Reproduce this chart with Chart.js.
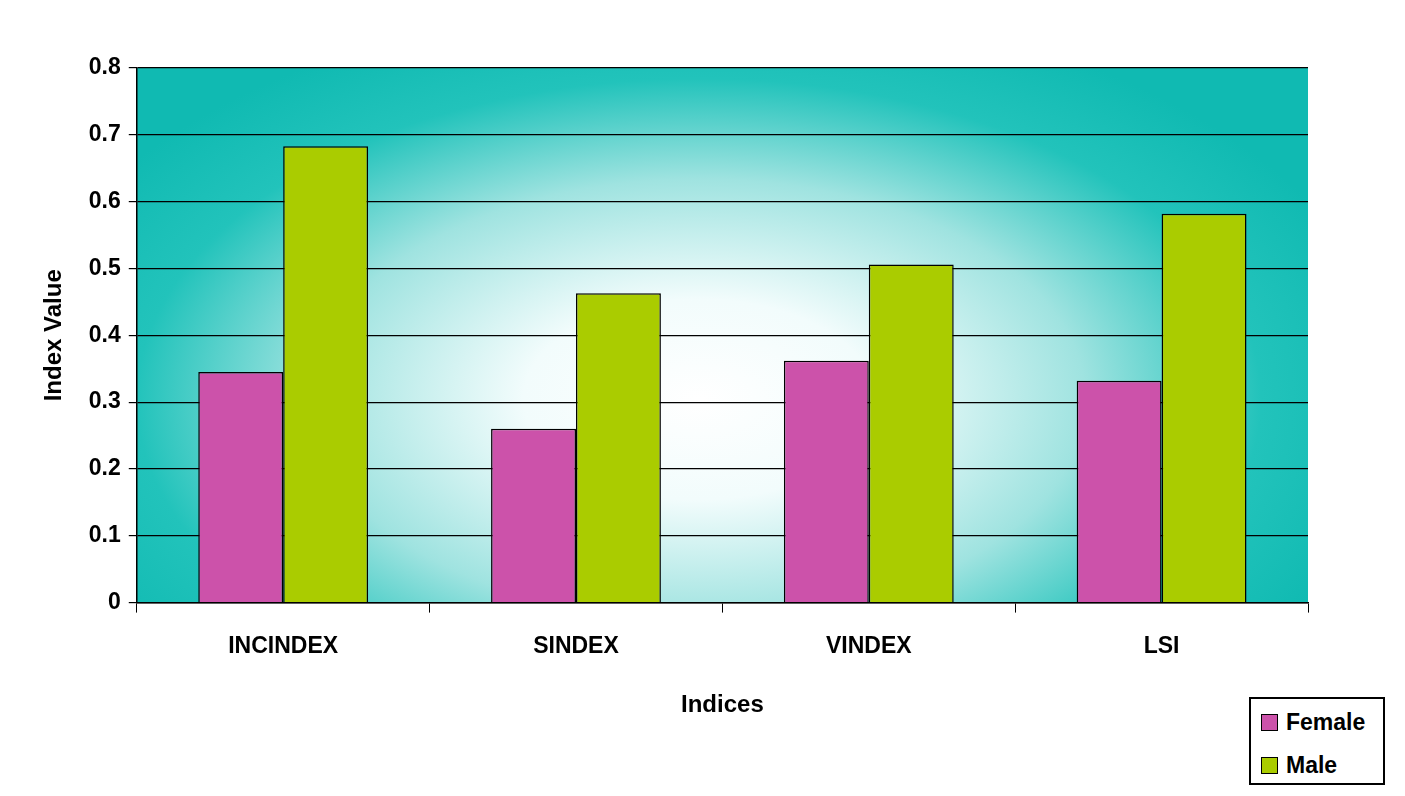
<!DOCTYPE html>
<html><head><meta charset="utf-8">
<script src="https://cdn.jsdelivr.net/npm/chart.js@4/dist/chart.umd.min.js"></script>
<style>
html,body{margin:0;padding:0;background:#fff;}
#wrap{position:relative;width:1405px;height:796px;}
#legend{position:absolute;left:1249px;top:697px;width:136px;height:88px;border:2px solid #000;background:#fff;font:bold 23px "Liberation Sans",Arial,sans-serif;box-sizing:border-box;}
#legend div{position:absolute;left:10px;display:flex;align-items:center;}
#legend span{display:inline-block;width:15px;height:15px;border:1px solid #000;margin-right:8px;}
</style></head>
<body><div id="wrap"><canvas id="c" width="1405" height="796"></canvas>
<div id="legend"><div style="top:10px"><span style="background:#CC52AA"></span>Female</div><div style="top:53px"><span style="background:#AACC00"></span>Male</div></div></div>
<script>
const categories = ["INCINDEX","SINDEX","VINDEX","LSI"];
const female = [0.345,0.26,0.362,0.332];
const male = [0.683,0.463,0.506,0.582];
const yTicks = [0,0.1,0.2,0.3,0.4,0.5,0.6,0.7,0.8];

const bg = {id:'bg',beforeDraw(chart){
  const {ctx,chartArea:a}=chart;
  const w=a.right-a.left,h=a.bottom-a.top;
  const cx=a.left+w*0.48, cy=a.top+h*0.62;
  ctx.save();
  ctx.beginPath();ctx.rect(a.left,a.top,w,h);ctx.clip();
  ctx.translate(cx,cy);ctx.scale(1,h/w*1.25);
  const r=w*0.6;
  const g=ctx.createRadialGradient(0,0,0,0,0,r);
  g.addColorStop(0,'#ffffff');g.addColorStop(0.25,'#f2fcfc');
  g.addColorStop(0.55,'#9fe3e0');g.addColorStop(0.8,'#22c3bb');g.addColorStop(1,'#10bab2');
  ctx.fillStyle=g;ctx.fillRect(-w,-w*2,w*2,w*4);
  ctx.restore();
}};
const font={family:'"Liberation Sans", Arial, sans-serif',weight:'bold',size:23};
new Chart(document.getElementById('c'),{
  type:'bar',
  data:{labels:categories,datasets:[
    {label:'Female',data:female,backgroundColor:'#CC52AA',borderColor:'#000',borderWidth:1.5},
    {label:'Male',data:male,backgroundColor:'#AACC00',borderColor:'#000',borderWidth:1.5}]},
  options:{responsive:false,animation:false,
    layout:{padding:{left:36,right:97,top:68,bottom:72}},
    plugins:{legend:{display:false},tooltip:{enabled:false}},
    datasets:{bar:{categoryPercentage:0.58,barPercentage:1}},
    scales:{
      x:{grid:{display:true,drawOnChartArea:false,color:'#000',tickLength:10,offset:true},border:{color:'#000',width:1.5},
        ticks:{color:'#000',font,padding:20},
        title:{display:true,text:'Indices',color:'#000',font:{...font,size:24},padding:{top:11}}},
      y:{min:0,max:0.8,afterBuildTicks(s){s.ticks=yTicks.map(v=>({value:v}));},
        grid:{color:'#000',lineWidth:1.2,tickLength:8},border:{color:'#000',width:1.5},
        ticks:{color:'#000',font,padding:8,callback:v=>String(v)},
        title:{display:true,text:'Index Value',color:'#000',font:{...font,size:24},padding:{bottom:12}}}
    }},
  plugins:[bg]
});
</script></body></html>
